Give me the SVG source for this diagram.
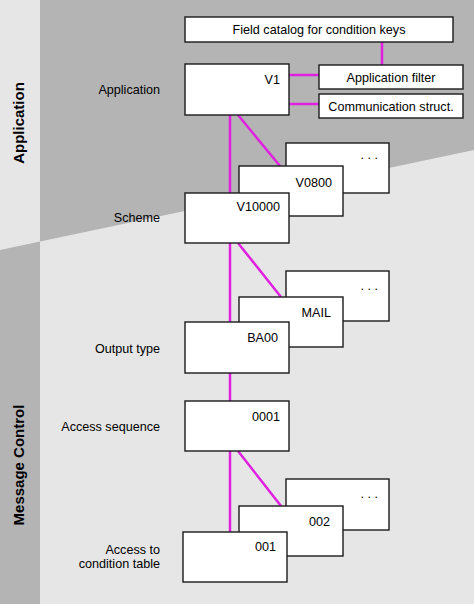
<svg xmlns="http://www.w3.org/2000/svg" width="474" height="604" viewBox="0 0 474 604">
<style>
.box{fill:#fff;stroke:#1a1a1a;stroke-width:1.4}
.t{font-family:"Liberation Sans",Arial,sans-serif;font-size:12.6px;fill:#000}
.r{text-anchor:end}
.c{text-anchor:middle}
.side{font-family:"Liberation Sans",Arial,sans-serif;font-size:15px;font-weight:bold;fill:#000;text-anchor:middle}
.con{stroke:#e020e0;stroke-width:2.5;fill:none}
</style>
<g id="background">
<rect x="0" y="0" width="474" height="604" fill="#e6e6e6"/>
<polygon points="40,0 474,0 474,150 40,241.5" fill="#b4b4b4"/>
<polygon points="0,249.9 40,241.5 40,604 0,604" fill="#b4b4b4"/>
<text class="side" transform="translate(23.5,123) rotate(-90)">Application</text>
<text class="side" transform="translate(23.5,465) rotate(-90)">Message Control</text>
</g>
<g id="labels">
<text class="t r" x="160" y="94">Application</text>
<text class="t r" x="160" y="222">Scheme</text>
<text class="t r" x="160" y="353">Output type</text>
<text class="t r" x="160" y="431">Access sequence</text>
<text class="t r" x="160" y="554">Access to</text>
<text class="t r" x="160" y="568">condition table</text>
</g>
<g id="connectors">
<line class="con" x1="382" y1="42" x2="382" y2="65"/>
<line class="con" x1="289" y1="75" x2="319" y2="75"/>
<line class="con" x1="289" y1="104" x2="319" y2="104"/>
<line class="con" x1="230" y1="115" x2="230" y2="193"/>
<line class="con" x1="238" y1="115" x2="280" y2="166"/>
<line class="con" x1="230" y1="243" x2="230" y2="322"/>
<line class="con" x1="238" y1="243" x2="281" y2="297"/>
<line class="con" x1="230" y1="373" x2="230" y2="401"/>
<line class="con" x1="230" y1="451" x2="230" y2="532"/>
<line class="con" x1="238" y1="451" x2="281" y2="506"/>
</g>
<g id="field-catalog">
<rect class="box" x="185" y="17" width="268" height="25"/>
<text class="t c" x="319" y="34">Field catalog for condition keys</text>
</g>
<g id="application-filter">
<rect class="box" x="319" y="65" width="144" height="24"/>
<text class="t c" x="391" y="82">Application filter</text>
</g>
<g id="communication-struct">
<rect class="box" x="319" y="94" width="144" height="24"/>
<text class="t c" x="391" y="111">Communication struct.</text>
</g>
<g id="v1">
<rect class="box" x="185" y="64" width="104" height="51"/>
<text class="t r" x="280" y="84">V1</text>
</g>
<g id="scheme-more">
<rect class="box" x="286" y="143" width="103" height="50"/>
<text class="t r" x="378" y="159">. . .</text>
</g>
<g id="v0800">
<rect class="box" x="239" y="166" width="104" height="50"/>
<text class="t r" x="332" y="187">V0800</text>
</g>
<g id="v10000">
<rect class="box" x="185" y="193" width="104" height="50"/>
<text class="t r" x="280" y="211">V10000</text>
</g>
<g id="output-more">
<rect class="box" x="286" y="271" width="103" height="50"/>
<text class="t r" x="378" y="290">. . .</text>
</g>
<g id="mail">
<rect class="box" x="239" y="297" width="104" height="50"/>
<text class="t r" x="331" y="317">MAIL</text>
</g>
<g id="ba00">
<rect class="box" x="185" y="322" width="104" height="51"/>
<text class="t r" x="278" y="342">BA00</text>
</g>
<g id="a0001">
<rect class="box" x="185" y="401" width="104" height="50"/>
<text class="t r" x="280" y="421">0001</text>
</g>
<g id="table-more">
<rect class="box" x="286" y="479" width="103" height="51"/>
<text class="t r" x="378" y="498">. . .</text>
</g>
<g id="t002">
<rect class="box" x="239" y="506" width="104" height="50"/>
<text class="t r" x="330" y="526">002</text>
</g>
<g id="t001">
<rect class="box" x="183" y="532" width="104" height="50"/>
<text class="t r" x="276" y="551">001</text>
</g>
</svg>
